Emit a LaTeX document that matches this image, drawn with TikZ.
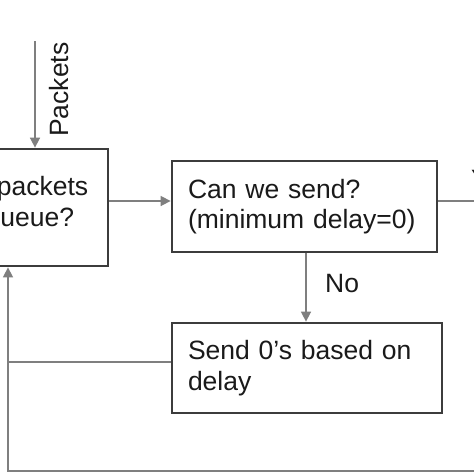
\documentclass[tikz,border=0pt]{standalone}
\usepackage{fontspec}
\setmainfont{Liberation Sans}
\usetikzlibrary{arrows.meta}
\definecolor{boxline}{HTML}{3C3C3C}
\definecolor{conn}{HTML}{7F7F7F}
\definecolor{txt}{HTML}{1A1A1A}
\tikzset{
  box/.style={draw=boxline, line width=2.8pt, rectangle, inner sep=0pt, text=txt,
    font=\fontsize{26.5}{30.5}\selectfont},
  leftbox/.style={box, align=left, text width=#1, inner xsep=16pt},
  conline/.style={draw=conn, line width=1.6pt},
  arr/.style={conline, -{Triangle[length=10pt,width=10pt]}},
  lbl/.style={text=txt, inner sep=0pt, font=\fontsize{26.5}{30.5}\selectfont}
}
\begin{document}
\begin{tikzpicture}[x=1pt,y=-1pt]
\useasboundingbox (0,0) rectangle (474,474);
\clip (0,0) rectangle (474,474);
\fill[white] (0,0) rectangle (474,474);
% boxes
\node[box, minimum width=184pt, minimum height=117pt, align=center, text depth=12pt] (q) at (16,207.5) {Any packets\\in queue?};
\node[leftbox=233pt, minimum height=91pt] (s) at (304.5,206.5) {Can we send?\\(minimum delay=0)};
\node[leftbox=238pt, minimum height=90pt] (z) at (307,368) {Send 0’s based on\\delay};
% coordinates
\coordinate (pin) at (35,41);
\coordinate (m) at (0,201);
\coordinate (edge) at (476,201);
\coordinate (nx) at (306,0);
\coordinate (fb) at (8,362);
\coordinate (br) at (476,471);
\coordinate (bl) at (8,471);
% labels
\node[lbl, rotate=90, anchor=base west] (pk) at (68,137) {Packets};
\node[lbl, anchor=base west] (no) at (325,292) {No};
\node[lbl, anchor=base west] (yes) at (471,188) {Yes};
% connectors
\draw[arr] (pin) -- (pin |- q.north);
\draw[arr] (q.east |- m) -- (s.west |- m);
\draw[conline] (s.east |- m) -- (edge);
\draw[arr] (s.south -| nx) -- (z.north -| nx);
\draw[conline] (z.west |- fb) -- (fb);
\draw[arr] (br) -- (bl) -- (q.south -| bl);
\end{tikzpicture}
\end{document}
